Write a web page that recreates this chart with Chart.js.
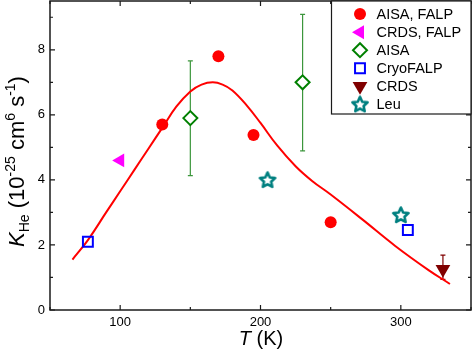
<!DOCTYPE html>
<html><head><meta charset="utf-8">
<script src="https://cdn.jsdelivr.net/npm/chart.js@4"></script>
<style>html,body{margin:0;padding:0;background:#fff;}#wrap{width:474px;height:355px;position:relative}</style>
</head><body><div id="wrap"><canvas id="c" width="474" height="355"></canvas></div>
<script>
// ---- data ----
const xTicks = [100, 200, 300];
const xMinor = [50, 150, 250, 350];
const yTicks = [0, 2, 4, 6, 8];
const yMinor = [1, 3, 5, 7, 9];
const aisaFalpT = [130, 170, 195, 250];
const aisaFalpK = [5.7, 7.8, 5.38, 2.7];
const crdsFalpT = [100];
const crdsFalpK = [4.6];
const aisaT = [150, 230];
const aisaK = [5.9, 7.0];
const aisaLo = [4.13, 4.89];
const aisaHi = [7.66, 9.09];
const cryoT = [77, 305];
const cryoK = [2.1, 2.46];
const crdsT = [330];
const crdsK = [1.25];
const crdsLo = [0.94];
const crdsHi = [1.69];
const leuT = [205, 300];
const leuK = [4.0, 2.92];
const fitT = [66, 77, 90, 100, 110, 120, 130, 140, 150, 158, 166, 173, 180, 190, 200, 212, 225, 237, 250, 273, 296, 320, 335];
const fitK = [1.55, 2.15, 3.0, 3.65, 4.3, 4.95, 5.6, 6.25, 6.72, 6.93, 7.0, 6.93, 6.75, 6.3, 5.75, 5.05, 4.42, 3.96, 3.55, 2.77, 1.97, 1.22, 0.8];
const legendNames = ['AISA, FALP', 'CRDS, FALP', 'AISA', 'CryoFALP', 'CRDS', 'Leu'];

const FONT = '"Liberation Sans", Arial, sans-serif';
const pts = (xs, ys) => xs.map((x, i) => ({x: x, y: ys[i]}));

// star marker
const star = document.createElement('canvas');
star.width = 20; star.height = 20;
(function(){
  const c = star.getContext('2d');
  c.beginPath();
  for (let i = 0; i < 10; i++) {
    const r = i % 2 === 0 ? 8 : 3.8;
    const a = -Math.PI / 2 + i * Math.PI / 5;
    const px = 10 + r * Math.cos(a), py = 10.5 + r * Math.sin(a);
    if (i === 0) c.moveTo(px, py); else c.lineTo(px, py);
  }
  c.closePath();
  c.fillStyle = '#ffffff'; c.fill();
  c.strokeStyle = '#008080'; c.lineWidth = 2.6; c.lineJoin = 'round'; c.stroke();
})();

const errorBars = [
  {ts: aisaT, lo: aisaLo, hi: aisaHi, color: '#3c963c'},
  {ts: crdsT, lo: crdsLo, hi: crdsHi, color: '#800000'}
];

const errPlugin = {
  id: 'err',
  beforeDatasetsDraw(chart) {
    const ctx = chart.ctx, xs = chart.scales.x, ys = chart.scales.y;
    ctx.save();
    errorBars.forEach(e => {
      ctx.strokeStyle = e.color; ctx.lineWidth = 1.2;
      e.ts.forEach((t, i) => {
        const px = xs.getPixelForValue(t);
        const p1 = ys.getPixelForValue(e.lo[i]), p2 = ys.getPixelForValue(e.hi[i]);
        ctx.beginPath();
        ctx.moveTo(px, p1); ctx.lineTo(px, p2);
        ctx.moveTo(px - 2.5, p1); ctx.lineTo(px + 2.5, p1);
        ctx.moveTo(px - 2.5, p2); ctx.lineTo(px + 2.5, p2);
        ctx.stroke();
      });
    });
    ctx.restore();
  }
};

const decoPlugin = {
  id: 'deco',
  afterDraw(chart) {
    const ctx = chart.ctx, a = chart.chartArea, xs = chart.scales.x, ys = chart.scales.y;
    ctx.save();
    // frame
    ctx.strokeStyle = '#1a1a1a'; ctx.lineWidth = 1.5;
    ctx.strokeRect(a.left, a.top, a.right - a.left, a.bottom - a.top);
    // ticks (inward)
    ctx.lineWidth = 1.2; ctx.beginPath();
    const xt = (v, L) => { const p = xs.getPixelForValue(v); ctx.moveTo(p, a.bottom); ctx.lineTo(p, a.bottom - L); ctx.moveTo(p, a.top); ctx.lineTo(p, a.top + L); };
    const yt = (v, L) => { const p = ys.getPixelForValue(v); ctx.moveTo(a.left, p); ctx.lineTo(a.left + L, p); ctx.moveTo(a.right, p); ctx.lineTo(a.right - L, p); };
    xTicks.forEach(v => xt(v, 5)); xMinor.forEach(v => xt(v, 3));
    yTicks.forEach(v => yt(v, 5)); yMinor.forEach(v => yt(v, 3));
    ctx.stroke();

    // x title
    ctx.fillStyle = '#000'; ctx.textBaseline = 'alphabetic';
    const xSegs = [{t: 'T', f: 'italic 20px ' + FONT}, {t: ' (K)', f: '20px ' + FONT}];
    let w = 0; xSegs.forEach(s => { ctx.font = s.f; s.w = ctx.measureText(s.t).width; w += s.w; });
    let cx = 261 - w / 2;
    xSegs.forEach(s => { ctx.font = s.f; ctx.fillText(s.t, cx, 345); cx += s.w; });

    // y title
    const ySegs = [
      {t: 'K', f: 'italic 22px ' + FONT, dy: 0},
      {t: 'He', f: '14px ' + FONT, dy: 5},
      {t: ' (10', f: '22px ' + FONT, dy: 0},
      {t: '-25', f: '14px ' + FONT, dy: -9},
      {t: ' cm', f: '22px ' + FONT, dy: 0},
      {t: '6', f: '14px ' + FONT, dy: -9},
      {t: ' s', f: '22px ' + FONT, dy: 0},
      {t: '-1', f: '14px ' + FONT, dy: -9},
      {t: ')', f: '22px ' + FONT, dy: 0}
    ];
    w = 0; ySegs.forEach(s => { ctx.font = s.f; s.w = ctx.measureText(s.t).width; w += s.w; });
    ctx.save();
    ctx.translate(24, 161.5); ctx.rotate(-Math.PI / 2);
    cx = -w / 2;
    ySegs.forEach(s => { ctx.font = s.f; ctx.fillText(s.t, cx, s.dy); cx += s.w; });
    ctx.restore();

    // legend
    const lx0 = 331.5, ly0 = a.top, lx1 = a.right, ly1 = 114;
    ctx.fillStyle = '#fff';
    ctx.fillRect(lx0, ly0, lx1 - lx0, ly1 - ly0);
    ctx.strokeStyle = '#1a1a1a'; ctx.lineWidth = 1.2;
    ctx.strokeRect(lx0, ly0, lx1 - lx0, ly1 - ly0);
    const rows = [14, 32.3, 50.2, 68.3, 86.2, 104.3];
    ctx.font = '14.5px ' + FONT; ctx.textBaseline = 'middle';
    legendNames.forEach((name, i) => {
      const ds = chart.data.datasets[i];
      ctx.save();
      ctx.fillStyle = ds.backgroundColor; ctx.strokeStyle = ds.borderColor;
      ctx.lineWidth = ds.borderWidth;
      Chart.helpers.drawPoint(ctx, {pointStyle: ds.pointStyle, rotation: ds.rotation || 0, radius: ds.pointRadius, borderWidth: ds.borderWidth}, 360, rows[i]);
      ctx.restore();
      ctx.fillStyle = '#000';
      ctx.fillText(name, 376.5, rows[i] + 0.5);
    });
    ctx.restore();
  }
};

const zeroPad = s => { s.paddingTop = 0; s.paddingBottom = 0; s.paddingLeft = 0; s.paddingRight = 0; };

new Chart(document.getElementById('c'), {
  type: 'scatter',
  data: {
    datasets: [
      {label: legendNames[0], data: pts(aisaFalpT, aisaFalpK), pointStyle: 'circle', pointRadius: 6, backgroundColor: '#ff0000', borderColor: '#ff0000', borderWidth: 0},
      {label: legendNames[1], data: pts(crdsFalpT, crdsFalpK), pointStyle: 'triangle', rotation: -90, pointRadius: 8, backgroundColor: '#ff00ff', borderColor: '#ff00ff', borderWidth: 0},
      {label: legendNames[2], data: pts(aisaT, aisaK), pointStyle: 'rectRot', pointRadius: 7, backgroundColor: '#ffffff', borderColor: '#008000', borderWidth: 2},
      {label: legendNames[3], data: pts(cryoT, cryoK), pointStyle: 'rect', pointRadius: 7, backgroundColor: 'rgba(255,255,255,0)', borderColor: '#0000ff', borderWidth: 2},
      {label: legendNames[4], data: pts(crdsT, crdsK), pointStyle: 'triangle', rotation: 180, pointRadius: 8.5, backgroundColor: '#800000', borderColor: '#800000', borderWidth: 0},
      {label: legendNames[5], data: pts(leuT, leuK), pointStyle: star, pointRadius: 8, backgroundColor: '#008080', borderColor: '#008080', borderWidth: 0},
      {label: 'fit', type: 'line', data: pts(fitT, fitK), borderColor: '#ff0000', borderWidth: 2, pointRadius: 0, fill: false, tension: 0.4, showLine: true}
    ]
  },
  options: {
    responsive: false, animation: false, events: [],
    layout: {autoPadding: false, padding: {top: 1, right: 3, left: 0, bottom: 0}},
    plugins: {legend: {display: false}, tooltip: {enabled: false}},
    scales: {
      x: {
        type: 'linear', min: 50, max: 350,
        grid: {display: false, drawTicks: false}, border: {display: false},
        ticks: {font: {family: FONT, size: 13}, color: '#000', padding: 5},
        afterBuildTicks: s => { s.ticks = xTicks.map(v => ({value: v})); },
        afterFit: s => { s.height = 45; zeroPad(s); }
      },
      y: {
        type: 'linear', min: 0, max: 9.5,
        grid: {display: false, drawTicks: false}, border: {display: false},
        ticks: {font: {family: FONT, size: 13}, color: '#000', padding: 5},
        afterBuildTicks: s => { s.ticks = yTicks.map(v => ({value: v})); },
        afterFit: s => { s.width = 50; zeroPad(s); }
      }
    }
  },
  plugins: [errPlugin, decoPlugin]
});
</script>
</body></html>
